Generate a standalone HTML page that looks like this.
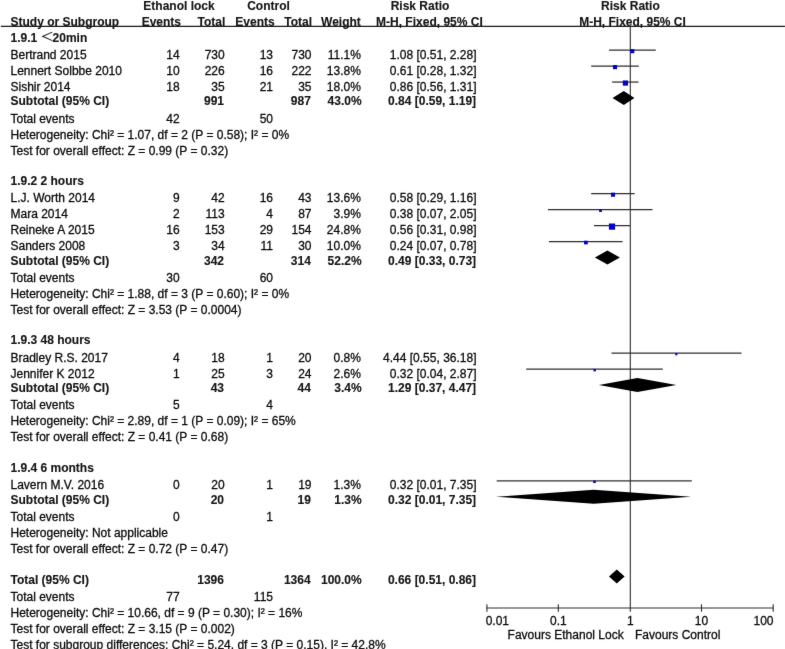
<!DOCTYPE html>
<html><head><meta charset="utf-8"><title>Forest plot</title>
<style>
html,body{margin:0;padding:0;background:#fff;}
body{width:785px;height:649px;position:relative;overflow:hidden;font-family:"Liberation Sans","Noto Sans CJK SC",sans-serif;font-size:12px;color:#0a0a0a;-webkit-text-stroke:0.28px #0a0a0a;}
.t{position:absolute;white-space:nowrap;line-height:16px;height:16px;}
.b{font-weight:bold;-webkit-text-stroke:0.12px #141414;color:#141414;}
.c{text-align:center;}
.lt{font-weight:normal;font-family:"Noto Sans CJK SC",sans-serif;line-height:0;display:inline-block;width:12px;transform:translate(-0.4px,-0.7px) scaleX(1.13);transform-origin:1.4px 50%;color:#222;}
svg{position:absolute;left:0;top:0;}
#wrap{position:absolute;left:-8px;top:-8px;width:801px;height:665px;background:#fff;filter:url(#soft);}
#page{position:absolute;left:8px;top:8px;width:785px;height:649px;}
</style></head><body>
<div id="wrap"><div id="page">
<svg width="785" height="649" viewBox="0 0 785 649">
<defs><filter id="soft" x="0" y="0" width="100%" height="100%" color-interpolation-filters="sRGB"><feConvolveMatrix order="3" kernelMatrix="0.01 0.05 0.01 0.05 0.76 0.05 0.01 0.05 0.01" edgeMode="duplicate" preserveAlpha="true"/></filter></defs>
<line x1="0.8" y1="26.3" x2="795" y2="26.3" stroke="#1a1a1a" stroke-width="1.15"/>
<line x1="630.3" y1="26" x2="630.3" y2="611.7" stroke="#2e2e2e" stroke-width="1.1"/>
<line x1="486.4" y1="608.0" x2="773.7" y2="608.0" stroke="#2e2e2e" stroke-width="1.1"/>
<line x1="486.90" y1="604.3" x2="486.90" y2="611.7" stroke="#2e2e2e" stroke-width="1.1"/>
<line x1="558.30" y1="604.3" x2="558.30" y2="611.7" stroke="#2e2e2e" stroke-width="1.1"/>
<line x1="701.50" y1="604.3" x2="701.50" y2="611.7" stroke="#2e2e2e" stroke-width="1.1"/>
<line x1="773.20" y1="604.3" x2="773.20" y2="611.7" stroke="#2e2e2e" stroke-width="1.1"/>
<line x1="609.0" y1="50.15" x2="655.8" y2="50.15" stroke="#2e2e2e" stroke-width="1.25"/>
<rect x="630.25" y="49.10" width="4.1" height="4.1" fill="#0000cd"/>
<line x1="591.2" y1="66.10" x2="638.8" y2="66.10" stroke="#2e2e2e" stroke-width="1.25"/>
<rect x="612.95" y="65.05" width="4.1" height="4.1" fill="#0000cd"/>
<line x1="612.1" y1="82.05" x2="638.5" y2="82.05" stroke="#2e2e2e" stroke-width="1.25"/>
<rect x="622.80" y="80.45" width="5.2" height="5.2" fill="#0000cd"/>
<polygon points="612.5,98.00 623.8,91.00 634.4,98.00 623.8,105.00" fill="#000"/>
<line x1="591.2" y1="193.70" x2="634.7" y2="193.70" stroke="#2e2e2e" stroke-width="1.25"/>
<rect x="610.95" y="192.65" width="4.1" height="4.1" fill="#0000cd"/>
<line x1="548.0" y1="209.65" x2="652.5" y2="209.65" stroke="#2e2e2e" stroke-width="1.25"/>
<rect x="599.15" y="209.30" width="2.7" height="2.7" fill="#0000cd"/>
<line x1="594.0" y1="225.60" x2="630.0" y2="225.60" stroke="#2e2e2e" stroke-width="1.25"/>
<rect x="608.90" y="223.50" width="6.2" height="6.2" fill="#0000cd"/>
<line x1="548.9" y1="241.55" x2="622.6" y2="241.55" stroke="#2e2e2e" stroke-width="1.25"/>
<rect x="584.05" y="240.70" width="3.7" height="3.7" fill="#0000cd"/>
<polygon points="594.9,257.50 607.4,250.50 619.9,257.50 607.4,264.50" fill="#000"/>
<line x1="611.5" y1="353.20" x2="741.5" y2="353.20" stroke="#2e2e2e" stroke-width="1.25"/>
<rect x="675.20" y="353.10" width="2.2" height="2.2" fill="#0000cd"/>
<line x1="526.2" y1="369.15" x2="662.8" y2="369.15" stroke="#2e2e2e" stroke-width="1.25"/>
<rect x="593.50" y="368.95" width="2.4" height="2.4" fill="#0000cd"/>
<polygon points="598.9,385.10 637.4,378.10 676.4,385.10 637.4,392.10" fill="#000"/>
<line x1="496.7" y1="480.80" x2="691.8" y2="480.80" stroke="#2e2e2e" stroke-width="1.25"/>
<rect x="593.25" y="480.55" width="2.5" height="2.5" fill="#0000cd"/>
<polygon points="496.0,496.75 593.7,489.75 691.2,496.75 593.7,503.75" fill="#000"/>
<polygon points="609.0,576.50 616.8,569.50 624.6,576.50 616.8,583.50" fill="#000"/>
</svg>
<div class="t c b" style="left:79px;width:200px;top:-2px">Ethanol lock</div>
<div class="t c b" style="left:168.5px;width:200px;top:-2px">Control</div>
<div class="t c b" style="left:320px;width:200px;top:-2px">Risk Ratio</div>
<div class="t c b" style="left:530.4px;width:200px;top:-2px">Risk Ratio</div>
<div class="t b" style="left:10.5px;top:14px">Study or Subgroup</div>
<div class="t b" style="right:604.00px;top:14px">Events</div>
<div class="t b" style="right:559.70px;top:14px">Total</div>
<div class="t b" style="right:510.30px;top:14px">Events</div>
<div class="t b" style="right:473.00px;top:14px">Total</div>
<div class="t b" style="right:424.20px;top:14px">Weight</div>
<div class="t c b" style="left:329.4px;width:200px;top:14px">M-H, Fixed, 95% CI</div>
<div class="t c b" style="left:532.5px;width:200px;top:14px">M-H, Fixed, 95% CI</div>
<div class="t b" style="left:10.5px;top:30px">1.9.1 <span class="lt">＜</span>20min</div>
<div class="t " style="left:10.5px;top:47px">Bertrand 2015</div>
<div class="t " style="right:605.40px;top:47px">14</div>
<div class="t " style="right:560.30px;top:47px">730</div>
<div class="t " style="right:512.00px;top:47px">13</div>
<div class="t " style="right:473.50px;top:47px">730</div>
<div class="t " style="right:424.20px;top:47px">11.1%</div>
<div class="t " style="right:308.50px;top:47px">1.08 [0.51, 2.28]</div>
<div class="t " style="left:10.5px;top:63px">Lennert Solbbe 2010</div>
<div class="t " style="right:605.40px;top:63px">10</div>
<div class="t " style="right:560.30px;top:63px">226</div>
<div class="t " style="right:512.00px;top:63px">16</div>
<div class="t " style="right:473.50px;top:63px">222</div>
<div class="t " style="right:424.20px;top:63px">13.8%</div>
<div class="t " style="right:308.50px;top:63px">0.61 [0.28, 1.32]</div>
<div class="t " style="left:10.5px;top:79px">Sishir 2014</div>
<div class="t " style="right:605.40px;top:79px">18</div>
<div class="t " style="right:560.30px;top:79px">35</div>
<div class="t " style="right:512.00px;top:79px">21</div>
<div class="t " style="right:473.50px;top:79px">35</div>
<div class="t " style="right:424.20px;top:79px">18.0%</div>
<div class="t " style="right:308.50px;top:79px">0.86 [0.56, 1.31]</div>
<div class="t b" style="left:10.5px;top:93px">Subtotal (95% CI)</div>
<div class="t b" style="right:561.00px;top:93px">991</div>
<div class="t b" style="right:474.20px;top:93px">987</div>
<div class="t b" style="right:423.40px;top:93px">43.0%</div>
<div class="t b" style="right:308.90px;top:93px">0.84 [0.59, 1.19]</div>
<div class="t " style="left:10.5px;top:111px">Total events</div>
<div class="t " style="right:605.40px;top:111px">42</div>
<div class="t " style="right:512.00px;top:111px">50</div>
<div class="t " style="left:10.5px;top:127px">Heterogeneity: Chi² = 1.07, df = 2 (P = 0.58); I² = 0%</div>
<div class="t " style="left:10.5px;top:143px">Test for overall effect: Z = 0.99 (P = 0.32)</div>
<div class="t b" style="left:10.5px;top:173px">1.9.2 2 hours</div>
<div class="t " style="left:10.5px;top:190px">L.J. Worth 2014</div>
<div class="t " style="right:605.40px;top:190px">9</div>
<div class="t " style="right:560.30px;top:190px">42</div>
<div class="t " style="right:512.00px;top:190px">16</div>
<div class="t " style="right:473.50px;top:190px">43</div>
<div class="t " style="right:424.20px;top:190px">13.6%</div>
<div class="t " style="right:308.50px;top:190px">0.58 [0.29, 1.16]</div>
<div class="t " style="left:10.5px;top:206px">Mara 2014</div>
<div class="t " style="right:605.40px;top:206px">2</div>
<div class="t " style="right:560.30px;top:206px">113</div>
<div class="t " style="right:512.00px;top:206px">4</div>
<div class="t " style="right:473.50px;top:206px">87</div>
<div class="t " style="right:424.20px;top:206px">3.9%</div>
<div class="t " style="right:308.50px;top:206px">0.38 [0.07, 2.05]</div>
<div class="t " style="left:10.5px;top:222px">Reineke A 2015</div>
<div class="t " style="right:605.40px;top:222px">16</div>
<div class="t " style="right:560.30px;top:222px">153</div>
<div class="t " style="right:512.00px;top:222px">29</div>
<div class="t " style="right:473.50px;top:222px">154</div>
<div class="t " style="right:424.20px;top:222px">24.8%</div>
<div class="t " style="right:308.50px;top:222px">0.56 [0.31, 0.98]</div>
<div class="t " style="left:10.5px;top:238px">Sanders 2008</div>
<div class="t " style="right:605.40px;top:238px">3</div>
<div class="t " style="right:560.30px;top:238px">34</div>
<div class="t " style="right:512.00px;top:238px">11</div>
<div class="t " style="right:473.50px;top:238px">30</div>
<div class="t " style="right:424.20px;top:238px">10.0%</div>
<div class="t " style="right:308.50px;top:238px">0.24 [0.07, 0.78]</div>
<div class="t b" style="left:10.5px;top:253px">Subtotal (95% CI)</div>
<div class="t b" style="right:561.00px;top:253px">342</div>
<div class="t b" style="right:474.20px;top:253px">314</div>
<div class="t b" style="right:423.40px;top:253px">52.2%</div>
<div class="t b" style="right:308.90px;top:253px">0.49 [0.33, 0.73]</div>
<div class="t " style="left:10.5px;top:270px">Total events</div>
<div class="t " style="right:605.40px;top:270px">30</div>
<div class="t " style="right:512.00px;top:270px">60</div>
<div class="t " style="left:10.5px;top:286px">Heterogeneity: Chi² = 1.88, df = 3 (P = 0.60); I² = 0%</div>
<div class="t " style="left:10.5px;top:302px">Test for overall effect: Z = 3.53 (P = 0.0004)</div>
<div class="t b" style="left:10.5px;top:332px">1.9.3 48 hours</div>
<div class="t " style="left:10.5px;top:350px">Bradley R.S. 2017</div>
<div class="t " style="right:605.40px;top:350px">4</div>
<div class="t " style="right:560.30px;top:350px">18</div>
<div class="t " style="right:512.00px;top:350px">1</div>
<div class="t " style="right:473.50px;top:350px">20</div>
<div class="t " style="right:424.20px;top:350px">0.8%</div>
<div class="t " style="right:308.50px;top:350px">4.44 [0.55, 36.18]</div>
<div class="t " style="left:10.5px;top:366px">Jennifer K 2012</div>
<div class="t " style="right:605.40px;top:366px">1</div>
<div class="t " style="right:560.30px;top:366px">25</div>
<div class="t " style="right:512.00px;top:366px">3</div>
<div class="t " style="right:473.50px;top:366px">24</div>
<div class="t " style="right:424.20px;top:366px">2.6%</div>
<div class="t " style="right:308.50px;top:366px">0.32 [0.04, 2.87]</div>
<div class="t b" style="left:10.5px;top:380px">Subtotal (95% CI)</div>
<div class="t b" style="right:561.00px;top:380px">43</div>
<div class="t b" style="right:474.20px;top:380px">44</div>
<div class="t b" style="right:423.40px;top:380px">3.4%</div>
<div class="t b" style="right:308.90px;top:380px">1.29 [0.37, 4.47]</div>
<div class="t " style="left:10.5px;top:397px">Total events</div>
<div class="t " style="right:605.40px;top:397px">5</div>
<div class="t " style="right:512.00px;top:397px">4</div>
<div class="t " style="left:10.5px;top:413px">Heterogeneity: Chi² = 2.89, df = 1 (P = 0.09); I² = 65%</div>
<div class="t " style="left:10.5px;top:429px">Test for overall effect: Z = 0.41 (P = 0.68)</div>
<div class="t b" style="left:10.5px;top:460px">1.9.4 6 months</div>
<div class="t " style="left:10.5px;top:477px">Lavern M.V. 2016</div>
<div class="t " style="right:605.40px;top:477px">0</div>
<div class="t " style="right:560.30px;top:477px">20</div>
<div class="t " style="right:512.00px;top:477px">1</div>
<div class="t " style="right:473.50px;top:477px">19</div>
<div class="t " style="right:424.20px;top:477px">1.3%</div>
<div class="t " style="right:308.50px;top:477px">0.32 [0.01, 7.35]</div>
<div class="t b" style="left:10.5px;top:492px">Subtotal (95% CI)</div>
<div class="t b" style="right:561.00px;top:492px">20</div>
<div class="t b" style="right:474.20px;top:492px">19</div>
<div class="t b" style="right:423.40px;top:492px">1.3%</div>
<div class="t b" style="right:308.90px;top:492px">0.32 [0.01, 7.35]</div>
<div class="t " style="left:10.5px;top:509px">Total events</div>
<div class="t " style="right:605.40px;top:509px">0</div>
<div class="t " style="right:512.00px;top:509px">1</div>
<div class="t " style="left:10.5px;top:525px">Heterogeneity: Not applicable</div>
<div class="t " style="left:10.5px;top:541px">Test for overall effect: Z = 0.72 (P = 0.47)</div>
<div class="t b" style="left:10.5px;top:572px">Total (95% CI)</div>
<div class="t b" style="right:561.10px;top:572px">1396</div>
<div class="t b" style="right:474.40px;top:572px">1364</div>
<div class="t b" style="right:423.30px;top:572px">100.0%</div>
<div class="t b" style="right:309.00px;top:572px">0.66 [0.51, 0.86]</div>
<div class="t " style="left:10.5px;top:589px">Total events</div>
<div class="t " style="right:605.40px;top:589px">77</div>
<div class="t " style="right:512.00px;top:589px">115</div>
<div class="t " style="left:10.5px;top:605px">Heterogeneity: Chi² = 10.66, df = 9 (P = 0.30); I² = 16%</div>
<div class="t " style="left:10.5px;top:621px">Test for overall effect: Z = 3.15 (P = 0.002)</div>
<div class="t " style="left:10.5px;top:637px">Test for subgroup differences: Chi² = 5.24, df = 3 (P = 0.15), I² = 42.8%</div>
<div class="t " style="left:485.7px;top:613px">0.01</div>
<div class="t c " style="left:458.29999999999995px;width:200px;top:613px">0.1</div>
<div class="t c " style="left:530.3px;width:200px;top:613px">1</div>
<div class="t c " style="left:601.5px;width:200px;top:613px">10</div>
<div class="t " style="right:11.50px;top:613px">100</div>
<div class="t " style="left:507.6px;top:627px">Favours Ethanol Lock</div>
<div class="t " style="left:635.0px;top:627px">Favours Control</div>
</div></div>
</body></html>
